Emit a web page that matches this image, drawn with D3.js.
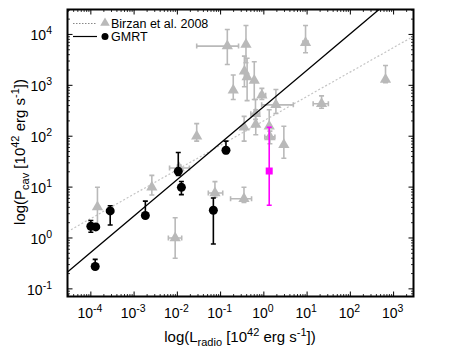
<!DOCTYPE html>
<html><head><meta charset="utf-8">
<script src="https://cdn.jsdelivr.net/npm/d3@7"></script>
<style>
html,body{margin:0;padding:0;background:#fff;}
text{font-family:"Liberation Sans",Arial,sans-serif;}
</style></head>
<body><svg id="c" width="474" height="351"></svg>
<script>
// ---- data ----
const xTickExps = [-4,-3,-2,-1,0,1,2,3];
const yTickExps = [-1,0,1,2,3,4];
// GMRT: Lradio, Pcav, Pcav_low, Pcav_high
const gmrtL    = [1.0e-4, 1.3e-4, 1.26e-4, 2.8e-4, 1.82e-3, 0.0105, 0.0124, 0.068, 0.133];
const gmrtP    = [1.7,    1.65,   0.275,   3.4,    2.77,    20.4,   9.9,    3.5,   53];
const gmrtPlo  = [1.3,    1.5,    0.25,    1.8,    2.5,     17,     7.1,    0.76,  46];
const gmrtPhi  = [2.2,    1.8,    0.38,    4.3,    5.3,     48,     12.9,   6.1,   80];
// Birzan et al. 2008
const birL   = [1.42e-4, 2.57e-3, 8.9e-3, 0.011, 0.028, 0.074, 0.347, 0.35, 0.65, 0.64, 1.33, 1.38, 2.9, 1.9, 0.9, 0.6, 0.41, 0.355, 0.386, 0.143, 0.196, 9.2, 21.6, 650];
const birLlo = [1.42e-4, 2.57e-3, 6.2e-3, 0.0066,0.028,0.052, 0.17, 0.35, 0.65, 0.5, 1.33, 1.05, 2.9, 0.89, 0.8, 0.6, 0.41, 0.355, 0.386, 0.028, 0.196, 8.0, 13.8, 650];
const birLhi = [1.42e-4, 2.57e-3, 0.0126, 0.019, 0.028, 0.112, 0.52, 0.35, 0.65, 0.8, 1.33, 1.8, 2.9, 4.8, 1.1, 0.6, 0.41, 0.355, 0.386, 0.26, 0.196, 10.5, 31, 650];
const birP   = [4.06, 9.9, 1.0, 23.8, 100, 7.66, 5.9, 150, 169, 275, 157, 97, 68, 413, 638, 1240, 1450, 1900, 6350, 5900, 800, 6850, 433, 1300];
const birPlo = [1.6,  7.0, 0.4, 21,   80,  6.3,  5.0, 80,  107, 214, 100, 71, 37, 280, 525, 525,  500,  940,  2770, 2570, 525, 4360, 355, 1120];
const birPhi = [9.9,  17,  2.5, 27,   177, 12.8, 9.9, 245, 330, 525, 330, 126,157, 830, 870, 2900, 3400, 3750, 15000,12500,1590,15000,620, 2450];
// single highlighted source
const magL = [1.33], magP = [20.7], magPlo = [4.4], magPhi = [150];
// fits: log P = a + b log L
const fitGMRT = {a: 2.583, b: 0.716};
const fitBir  = {a: 2.303, b: 0.48};
const legendLabels = ["Birzan et al. 2008", "GMRT"];

// ---- layout ----
const svg = d3.select("#c");
const L = 67.5, R = 413.5, T = 9.5, B = 296.5;
const x = d3.scaleLog().domain([Math.pow(10,-4.54), Math.pow(10,3.46)]).range([L,R]);
const y = d3.scaleLog().domain([Math.pow(10,-1.15), Math.pow(10,4.49)]).range([B,T]);
const gray = "#b9b9b9";

svg.append("defs").append("clipPath").attr("id","clp")
  .append("rect").attr("x",L).attr("y",T).attr("width",R-L).attr("height",B-T);

// ticks (inside, mirrored)
const tg = svg.append("g");
const xMinor = [], yMinor = [];
for (let e=-5;e<=4;e++) for (let m=2;m<=9;m++){ const v=m*Math.pow(10,e); if(v>x.domain()[0]&&v<x.domain()[1]) xMinor.push(v); }
for (let e=-2;e<=4;e++) for (let m=2;m<=9;m++){ const v=m*Math.pow(10,e); if(v>y.domain()[0]&&v<y.domain()[1]) yMinor.push(v); }
function tick(x1,y1,x2,y2,w){ tg.append("line").attr("x1",x1).attr("y1",y1).attr("x2",x2).attr("y2",y2).attr("stroke","#000").attr("stroke-width",w); }
xTickExps.forEach(e=>{ const px=x(Math.pow(10,e)); tick(px,B,px,B-5,1); tick(px,T,px,T+5,1); });
xMinor.forEach(v=>{ const px=x(v); tick(px,B,px,B-2.5,0.8); tick(px,T,px,T+2.5,0.8); });
yTickExps.forEach(e=>{ const py=y(Math.pow(10,e)); tick(L,py,L+5,py,1); tick(R,py,R-5,py,1); });
yMinor.forEach(v=>{ const py=y(v); tick(L,py,L+2.5,py,0.8); tick(R,py,R-2.5,py,0.8); });

// tick labels
xTickExps.forEach(e=>{
  const t = svg.append("text").attr("x", x(Math.pow(10,e))-1).attr("y", 318).attr("text-anchor","middle").attr("font-size",14);
  t.append("tspan").text("10");
  t.append("tspan").attr("dy",-6).attr("font-size",10.5).text(String(e));
});
yTickExps.forEach(e=>{
  const t = svg.append("text").attr("x", 52).attr("y", y(Math.pow(10,e))+6).attr("text-anchor","end").attr("font-size",14);
  t.append("tspan").text("10");
  t.append("tspan").attr("dy",-6).attr("font-size",10.5).text(String(e));
});

// axis labels
const xl = svg.append("text").attr("x",240).attr("y",342).attr("text-anchor","middle").attr("font-size",15);
xl.append("tspan").text("log(L");
xl.append("tspan").attr("dy",4).attr("font-size",11).text("radio");
xl.append("tspan").attr("dy",-4).text(" [10");
xl.append("tspan").attr("dy",-6).attr("font-size",11).text("42");
xl.append("tspan").attr("dy",6).text(" erg s");
xl.append("tspan").attr("dy",-6).attr("font-size",11).text("-1");
xl.append("tspan").attr("dy",6).text("])");

const yl = svg.append("text").attr("transform","translate(25,152) rotate(-90)").attr("text-anchor","middle").attr("font-size",15);
yl.append("tspan").text("log(P");
yl.append("tspan").attr("dy",4).attr("font-size",11).text("cav");
yl.append("tspan").attr("dy",-4).text(" [10");
yl.append("tspan").attr("dy",-6).attr("font-size",11).text("42");
yl.append("tspan").attr("dy",6).text(" erg s");
yl.append("tspan").attr("dy",-6).attr("font-size",11).text("-1");
yl.append("tspan").attr("dy",6).text("])");

const plot = svg.append("g").attr("clip-path","url(#clp)");

// fit lines
function fitLine(f, dash, color, w){
  const xs = [x.domain()[0], x.domain()[1]];
  const ln = d3.line().x(d=>x(d)).y(d=>y(Math.pow(10, f.a + f.b*Math.log10(d))));
  plot.append("path").attr("d", ln(xs)).attr("fill","none").attr("stroke",color).attr("stroke-width",w).attr("stroke-dasharray",dash);
}
fitLine(fitBir, "2,2", "#c4c4c4", 1.2);

// Birzan points
const cap = 2.5;
birL.forEach((v,i)=>{
  const g = plot.append("g").attr("stroke",gray).attr("stroke-width",1.6);
  const px = x(v), py = y(birP[i]);
  g.append("line").attr("x1",px).attr("x2",px).attr("y1",y(birPlo[i])).attr("y2",y(birPhi[i]));
  g.append("line").attr("x1",px-cap).attr("x2",px+cap).attr("y1",y(birPlo[i])).attr("y2",y(birPlo[i]));
  g.append("line").attr("x1",px-cap).attr("x2",px+cap).attr("y1",y(birPhi[i])).attr("y2",y(birPhi[i]));
  if (birLlo[i] !== birLhi[i]) {
    g.append("line").attr("x1",x(birLlo[i])).attr("x2",x(birLhi[i])).attr("y1",py).attr("y2",py);
    g.append("line").attr("x1",x(birLlo[i])).attr("x2",x(birLlo[i])).attr("y1",py-cap).attr("y2",py+cap);
    g.append("line").attr("x1",x(birLhi[i])).attr("x2",x(birLhi[i])).attr("y1",py-cap).attr("y2",py+cap);
  }
  plot.append("path").attr("d", d3.symbol(d3.symbolTriangle, 55)()).attr("transform",`translate(${px},${py})`).attr("fill",gray);
});

fitLine(fitGMRT, null, "#000", 1.3);

// GMRT points
gmrtL.forEach((v,i)=>{
  const px = x(v);
  const g = plot.append("g").attr("stroke","#000").attr("stroke-width",1.6);
  g.append("line").attr("x1",px).attr("x2",px).attr("y1",y(gmrtPlo[i])).attr("y2",y(gmrtPhi[i]));
  g.append("line").attr("x1",px-cap).attr("x2",px+cap).attr("y1",y(gmrtPlo[i])).attr("y2",y(gmrtPlo[i]));
  g.append("line").attr("x1",px-cap).attr("x2",px+cap).attr("y1",y(gmrtPhi[i])).attr("y2",y(gmrtPhi[i]));
  plot.append("circle").attr("cx",px).attr("cy",y(gmrtP[i])).attr("r",4.5).attr("fill","#000");
});

// magenta
magL.forEach((v,i)=>{
  const px = x(v);
  const g = plot.append("g").attr("stroke","#ff00ff").attr("stroke-width",1.6);
  g.append("line").attr("x1",px).attr("x2",px).attr("y1",y(magPlo[i])).attr("y2",y(magPhi[i]));
  g.append("line").attr("x1",px-cap).attr("x2",px+cap).attr("y1",y(magPlo[i])).attr("y2",y(magPlo[i]));
  g.append("line").attr("x1",px-cap).attr("x2",px+cap).attr("y1",y(magPhi[i])).attr("y2",y(magPhi[i]));
  plot.append("rect").attr("x",px-3.5).attr("y",y(magP[i])-3.5).attr("width",7).attr("height",7).attr("fill","#ff00ff");
});

// legend
const lg = svg.append("g");
lg.append("line").attr("x1",73).attr("x2",97).attr("y1",23.5).attr("y2",23.5).attr("stroke","#888").attr("stroke-width",1).attr("stroke-dasharray","1.5,1.5");
lg.append("path").attr("d", d3.symbol(d3.symbolTriangle, 40)()).attr("transform","translate(105,23)").attr("fill",gray);
lg.append("text").attr("x",111).attr("y",28).attr("font-size",12.5).text(legendLabels[0]);
lg.append("line").attr("x1",73).attr("x2",97).attr("y1",36.5).attr("y2",36.5).attr("stroke","#000").attr("stroke-width",1.2);
lg.append("circle").attr("cx",105).attr("cy",36.5).attr("r",3.5).attr("fill","#000");
lg.append("text").attr("x",111).attr("y",41).attr("font-size",12.5).text(legendLabels[1]);

// frame
svg.append("rect").attr("x",L).attr("y",T).attr("width",R-L).attr("height",B-T).attr("fill","none").attr("stroke","#000").attr("stroke-width",2);
</script></body></html>
